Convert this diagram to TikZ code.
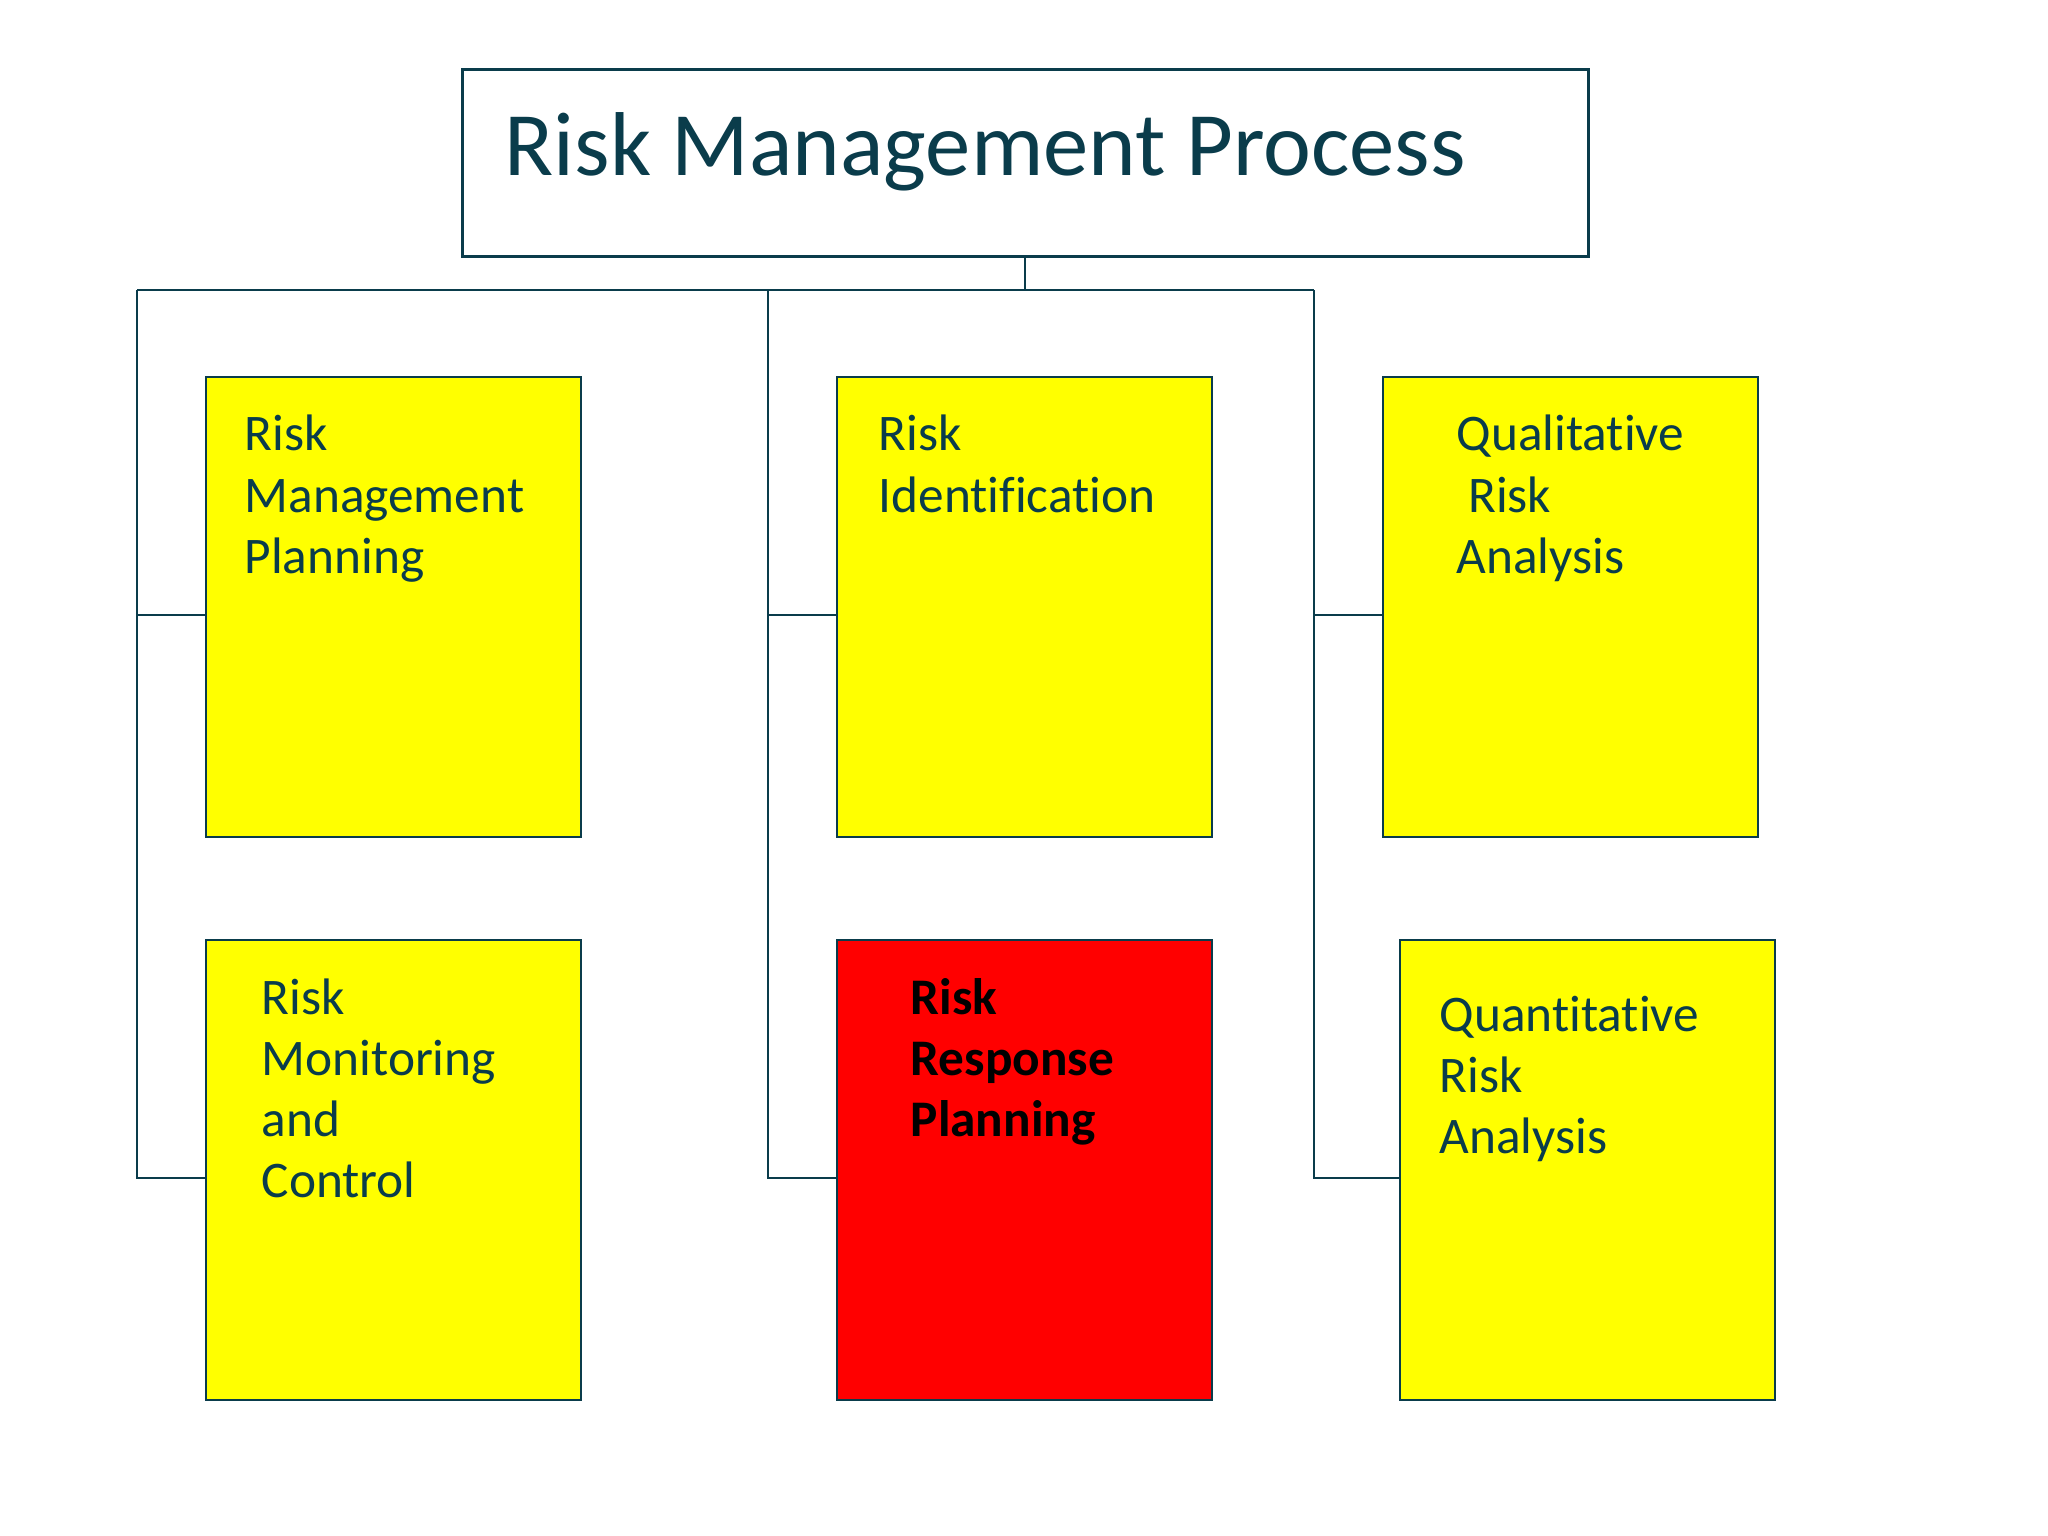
\documentclass[tikz,border=0pt]{standalone}
\usepackage{fontspec}
\setmainfont[Ligatures=NoCommon]{Carlito}
\usepackage{tikz}
\definecolor{myteal}{RGB}{10,60,75}
\definecolor{myyellow}{RGB}{255,255,0}
\definecolor{myred}{RGB}{255,0,0}
\newcommand{\boxlines}[1]{\begin{tabular}[t]{@{}l@{}}#1\end{tabular}}

\begin{document}
\begin{tikzpicture}[
    link/.style={draw=myteal, line width=0.6pt},
    stepbox/.style={draw=myteal, line width=0.7pt, fill=myyellow, inner sep=0pt,
        minimum width=3.75cm, minimum height=4.60cm, anchor=north west},
    boxtext/.style={anchor=base west, inner sep=0pt, text=myteal,
        font=\fontsize{14.6}{17.4}\selectfont}
]
    \useasboundingbox (0, 0) rectangle (20.48, -15.36);
    % Title
    \node[draw=myteal, line width=0.8pt, inner sep=0pt, minimum width=11.26cm,
        minimum height=1.87cm, anchor=north west] (title) at (4.61, -0.68) {};
    \node[anchor=base west, inner sep=0pt, text=myteal,
        font=\fontsize{25.8}{30}\selectfont] (titletext)
        at ([shift={(0.43, -1.08)}]title.north west) {Risk Management Process};

    % Steps
    \node[stepbox] (plan) at (2.05, -3.76) {};
    \node[stepbox] (ident) at (8.36, -3.76) {};
    \node[stepbox] (qual) at (13.82, -3.76) {};
    \node[stepbox] (mon) at (2.05, -9.39) {};
    \node[stepbox, fill=myred] (resp) at (8.36, -9.39) {};
    \node[stepbox] (quant) at (13.99, -9.39) {};

    \node[boxtext] (plantext) at ([shift={(0.39, -0.75)}]plan.north west)
        {\boxlines{Risk\\Management\\Planning}};
    \node[boxtext] (identtext) at ([shift={(0.42, -0.75)}]ident.north west)
        {\boxlines{Risk\\Identification}};
    \node[boxtext] (qualtext) at ([shift={(0.74, -0.75)}]qual.north west)
        {\boxlines{Qualitative\\~Risk\\Analysis}};
    \node[boxtext] (montext) at ([shift={(0.56, -0.75)}]mon.north west)
        {\boxlines{Risk\\Monitoring\\and\\Control}};
    \node[boxtext, text=black, font=\fontsize{14.6}{17.4}\selectfont\bfseries] (resptext)
        at ([shift={(0.74, -0.75)}]resp.north west)
        {\boxlines{Risk\\Response\\Planning}};
    \node[boxtext] (quanttext) at ([shift={(0.40, -0.92)}]quant.north west)
        {\boxlines{Quantitative\\Risk\\Analysis}};

    % Tree lines
    \coordinate (busL) at (1.37, -2.90);
    \coordinate (busM) at (7.68, -2.90);
    \coordinate (busR) at (13.14, -2.90);
    \draw[link] (title.south) -- (title.south |- busL);
    \draw[link] (busL) -- (busR);
    \draw[link] (busL) -- ([yshift=-0.08cm]busL |- mon.west) -- ([yshift=-0.08cm]mon.west);
    \draw[link] ([yshift=-0.08cm]busL |- plan.west) -- ([yshift=-0.08cm]plan.west);
    \draw[link] (busM) -- ([yshift=-0.08cm]busM |- resp.west) -- ([yshift=-0.08cm]resp.west);
    \draw[link] ([yshift=-0.08cm]busM |- ident.west) -- ([yshift=-0.08cm]ident.west);
    \draw[link] (busR) -- ([yshift=-0.08cm]busR |- quant.west) -- ([yshift=-0.08cm]quant.west);
    \draw[link] ([yshift=-0.08cm]busR |- qual.west) -- ([yshift=-0.08cm]qual.west);
\end{tikzpicture}
\end{document}
